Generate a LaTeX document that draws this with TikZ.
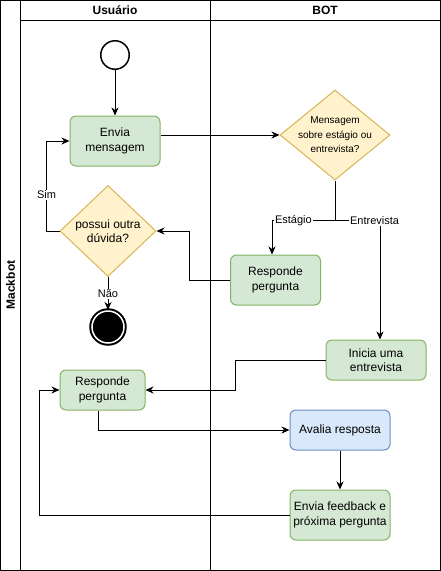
\documentclass[tikz,border=0pt]{standalone}
\usepackage{fontspec}
\setmainfont{Liberation Sans}
\usetikzlibrary{shapes.geometric,arrows.meta}
\definecolor{verdeF}{HTML}{D5E8D4}
\definecolor{verdeB}{HTML}{82B366}
\definecolor{amareloF}{HTML}{FFF2CC}
\definecolor{amareloB}{HTML}{D6B656}
\definecolor{azulF}{HTML}{DAE8FC}
\definecolor{azulB}{HTML}{6C8EBF}
\begin{document}
\begin{tikzpicture}[x=1pt,y=-1pt,line width=1pt,
  seta/.style={-{Stealth[length=8pt,width=7pt,inset=2.5pt]}},
  tarefa/.style={draw=verdeB,fill=verdeF,rounded corners=6pt,minimum width=90pt,minimum height=50pt,inner sep=0pt,align=center,font=\fontsize{12}{14.4}\selectfont},
  azul/.style={draw=azulB,fill=azulF},
  decisao/.style={diamond,draw=amareloB,fill=amareloF,inner sep=0pt},
  inicio/.style={circle,draw,line width=1.5pt,minimum size=28.5pt,inner sep=0pt},
  fim/.style={circle,draw=black,fill=black,line width=2pt,double=white,double distance=1.5pt,minimum size=32pt,inner sep=0pt},
  rotulo/.style={fill=white,inner sep=1pt,font=\fontsize{11}{13}\selectfont},
  cabecalho/.style={font=\fontsize{12}{14}\selectfont\bfseries}]
\useasboundingbox (0,0) rectangle (441,571);

% Pool and lanes
\draw (0.5,0.5) rectangle (440.5,570.5);
\draw (20.5,0.5) -- (20.5,570.5);
\draw (20.5,20.5) -- (440.5,20.5);
\draw (210.5,0.5) -- (210.5,570.5);
\node[cabecalho] (usuario) at (115,10.5) {Usuário};
\node[cabecalho] (bot) at (325,10.5) {BOT};
\node[cabecalho,rotate=90] (pool) at (10.5,285) {Mackbot};

% Nodes
\node[inicio] (inicio) at (115,55) {};
\node[tarefa] (envia) at (115,141) {Envia\\mensagem};
\node[decisao,minimum width=110pt,minimum height=90pt,
  label={[align=center,font=\fontsize{10}{14.5}\selectfont]center:Mensagem\\sobre estágio ou\\entrevista?}] (dec1) at (335,135) {};
\node[tarefa] (resp2) at (275.5,280) {Responde\\pergunta};
\node[decisao,minimum width=96pt,minimum height=91pt,
  label={[align=center,font=\fontsize{12}{14.4}\selectfont]center:possui outra\\dúvida?}] (dec2) at (108,231) {};
\node[fim] (fim) at (108,327) {};
\node[tarefa,minimum width=100pt,minimum height=40pt] (inicia) at (376,360) {Inicia uma\\entrevista};
\node[tarefa,minimum width=85pt,minimum height=40pt] (resp1) at (102.5,390) {Responde\\pergunta};
\node[tarefa,azul,minimum width=100pt,minimum height=40pt] (avalia) at (340,430) {Avalia resposta};
\node[tarefa,minimum width=100pt,minimum height=50pt] (feedback) at (340,515) {Envia feedback e\\próxima pergunta};

% Connectors
\draw[seta] (inicio) -- (envia);
\draw[seta] (envia.east |- dec1.west) -- (dec1.west);
\draw (dec1.south) -- ++(0,40) coordinate (bif);
\draw[seta] (bif) -| node[rotulo,pos=0.33] {Estágio} ([xshift=-3.5pt]resp2.north);
\draw[seta] (bif) -| node[rotulo,pos=0.44] {Entrevista} ([xshift=4pt]inicia.north);
\draw[seta] (resp2.west) -- ++(-41,0) |- (dec2.east);
\draw[seta] (dec2.west) -- ++(-13,0) |- node[rotulo,pos=0.2] {Sim} (envia.west);
\draw[seta] (dec2.south) -- node[rotulo] {Não} (fim.north);
\draw[seta] (inicia.west) -- ++(-90,0) |- (resp1.east);
\draw[seta] ([xshift=-4.5pt]resp1.south) |- (avalia.west);
\draw[seta] (avalia) -- (feedback);
\draw[seta] (feedback.west) -- ++(-250,0) |- (resp1.west);
\end{tikzpicture}
\end{document}
